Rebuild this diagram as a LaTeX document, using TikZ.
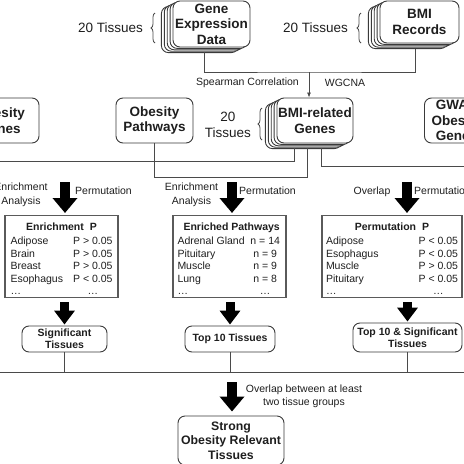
\documentclass[tikz,border=0pt]{standalone}
\usepackage{fontspec}
\setmainfont{Liberation Sans}
\usetikzlibrary{positioning}
\usetikzlibrary{arrows.meta}
\usetikzlibrary{shadows}
\usetikzlibrary{decorations.pathreplacing}
\usetikzlibrary{calc}

\definecolor{linegray}{HTML}{4A4A4A}
\definecolor{boxgray}{HTML}{3A3A3A}
\definecolor{tabgray}{HTML}{5A5A5A}
\definecolor{txtgray}{HTML}{1E1E1E}

\tikzset{
  link/.style={draw=linegray, line width=0.8pt},
  databox/.style={draw=boxgray, fill=white, line width=0.9pt, rounded corners=7pt, align=center, inner sep=1pt, font=\bfseries\fontsize{13.5}{15.5}\selectfont},
  stacked/.style={databox,
    copy shadow={shadow xshift=-11.6pt, shadow yshift=-5.6pt},
    copy shadow={shadow xshift=-8.7pt, shadow yshift=-4.2pt},
    copy shadow={shadow xshift=-5.8pt, shadow yshift=-2.8pt},
    copy shadow={shadow xshift=-2.9pt, shadow yshift=-1.4pt}},
  resultbox/.style={draw=boxgray, line width=0.9pt, rounded corners=7pt, align=center, inner sep=1pt, font=\bfseries\fontsize{10.5}{12}\selectfont},
  tablebox/.style={draw=tabgray, line width=1.3pt, inner sep=0pt, anchor=north, text height=15pt, text depth=67pt, font=\fontsize{10.5}{12.5}\selectfont},
  note/.style={align=center, inner sep=0pt, font=\fontsize{10.5}{13.5}\selectfont},
  bignote/.style={align=center, inner sep=0pt, font=\fontsize{13.5}{16}\selectfont},
  curly/.style={draw=linegray, decorate, decoration={brace, amplitude=4pt}, line width=0.8pt},
  bigarrow/.style={draw=black, line width=10pt, -{Triangle[width=24pt, length=15pt]}},
  smallarrow/.style={draw=black, line width=9pt, -{Triangle[width=20pt, length=14pt]}},
}

\begin{document}
\begin{tikzpicture}[x=1pt, y=-1pt, text=txtgray]
	\path[use as bounding box] (0,0) rectangle (464,464);
	\clip (0,0) rectangle (464,464);

	% data sources
	\node (gene) [stacked, minimum width=77pt, minimum height=46pt] at (211.5,24) {Gene\\Expression\\Data};
	\node (bmirec) [stacked, minimum width=79pt, minimum height=42pt] at (419.5,22) {BMI\\Records};
	\draw [curly] (155,43) -- (155,13);
	\node (tisgene) [bignote, anchor=east] at (143,28) {20 Tissues};
	\draw [curly] (361,43) -- (361,13);
	\node (tisbmi) [bignote, anchor=east] at (348,28) {20 Tissues};

	% gene sets
	\node (obgenes) [databox, minimum width=78pt, minimum height=45pt] at (0,120.5) {Obesity\\Genes};
	\node (pathways) [databox, minimum width=77pt, minimum height=45pt] at (154.5,120.5) {Obesity\\Pathways};
	\node (bmigenes) [stacked, minimum width=76pt, minimum height=45pt] at (315,120.5) {BMI-related\\Genes};
	\node (gwas) [databox, minimum width=64pt, minimum height=45pt, anchor=west] at (424,120.5) {GWAS\\Obesity\\Genes};
	\draw [curly] (262,140) -- (262,108);
	\node (tisrel) [bignote, anchor=east] at (251,125) {20\\Tissues};

	\coordinate (corr) at (309,72);
	\draw [link] ([shift={(-7,5)}]gene.south) |- (corr) -| ([shift={(-4.5,6)}]bmirec.south);
	\draw [link, -{Latex[length=5pt, width=4pt]}] (corr) -- (corr |- bmigenes.north);
	\node (spearman) [note] at (247.5,83) {Spearman Correlation};
	\node (wgcna) [note] at (345,83) {WGCNA};

	\coordinate (toleft) at (-20,161);
	\coordinate (toright) at (484,166);
	\draw [link] ([shift={(-21,5)}]bmigenes.south) |- (toleft);
	\draw [link] ([shift={(6,5)}]bmigenes.south) |- (toright);
	\draw [link] (pathways.south) -- ++(0,34) -| ([shift={(-8,5)}]bmigenes.south);

	% tests
	\coordinate (enrstart) at (65,182);
	\coordinate (pathstart) at (232,182);
	\coordinate (permstart) at (407,182);
	\node (enrlab) [note, font=\fontsize{10.5}{14}\selectfont] at (21,195) {Enrichment\\Analysis};
	\node (permlabL) [note] at (103.5,191) {Permutation};
	\node (pathlab) [note, font=\fontsize{10.5}{14}\selectfont] at (191.5,195) {Enrichment\\Analysis};
	\node (permlabM) [note] at (267.5,191) {Permutation};
	\node (ovllab) [note] at (372,192) {Overlap};
	\node (permlabR) [note] at (442.5,191) {Permutation};

	\node (enrtab) [tablebox, minimum width=113pt] at (61.5,215) {%
		\begin{tabular*}{102pt}[t]{@{}l@{\extracolsep{\fill}}c@{}}
			\multicolumn{2}{c}{\bfseries Enrichment\hspace{6pt}P}\\[1.5pt]
			Adipose & P > 0.05\\
			Brain & P > 0.05\\
			Breast & P > 0.05\\
			Esophagus & P < 0.05\\
			\ldots & \ldots
		\end{tabular*}};
	\node (pathtab) [tablebox, minimum width=113pt] at (229.5,215) {%
		\begin{tabular*}{104pt}[t]{@{}l@{\extracolsep{\fill}}c@{}}
			\multicolumn{2}{c}{\bfseries Enriched Pathways}\\[1.5pt]
			Adrenal Gland & n = 14\\
			Pituitary & n = 9\\
			Muscle & n = 9\\
			Lung & n = 8\\
			\ldots & \ldots
		\end{tabular*}};
	\node (permtab) [tablebox, minimum width=140pt] at (392,215) {%
		\begin{tabular*}{132pt}[t]{@{}l@{\extracolsep{\fill}}c@{}}
			\multicolumn{2}{c}{\bfseries Permutation\hspace{6pt}P}\\[1.5pt]
			Adipose & P < 0.05\\
			Esophagus & P < 0.05\\
			Muscle & P > 0.05\\
			Pituitary & P < 0.05\\
			\ldots & \ldots
		\end{tabular*}};

	% tissue groups
	\node (sigtis) [resultbox, minimum width=85pt, minimum height=26pt] at (64.5,339) {Significant\\Tissues};
	\node (top10) [resultbox, minimum width=90pt, minimum height=26pt] at (230,339) {Top 10 Tissues};
	\node (topsig) [resultbox, minimum width=109pt, minimum height=29pt] at (407.5,337.5) {Top 10 \& Significant\\Tissues};

	\draw [bigarrow, shorten >=2pt] (enrstart) -- (enrstart |- enrtab.north);
	\draw [bigarrow, shorten >=2pt] (pathstart) -- (pathstart |- pathtab.north);
	\draw [bigarrow, shorten >=2pt] (permstart) -- (permstart |- permtab.north);
	\draw [smallarrow, shorten <=4pt, shorten >=1pt] (enrtab.south -| sigtis.north) -- (sigtis.north);
	\draw [smallarrow, shorten <=4pt, shorten >=1pt] (pathtab.south -| top10.north) -- (top10.north);
	\draw [smallarrow, shorten <=4pt, shorten >=1pt] (permtab.south -| topsig.north) -- (topsig.north);

	% overlap
	\coordinate (mergeL) at (-20,372);
	\coordinate (mergeR) at (484,372);
	\draw [link] (mergeL) -- (mergeR);
	\draw [link] (sigtis.south) -- (sigtis.south |- mergeL);
	\draw [link] (top10.south) -- (top10.south |- mergeL);
	\draw [link] (topsig.south) -- (topsig.south |- mergeL);

	\node (strong) [resultbox, font=\bfseries\fontsize{12.3}{14.5}\selectfont, minimum width=106pt, minimum height=49pt] at (231,440.5) {Strong\\Obesity Relevant\\Tissues};
	\coordinate (overstart) at (232,382);
	\draw [bigarrow, shorten >=4pt] (overstart) -- (overstart |- strong.north);
	\node (overlap) [note, font=\fontsize{10.5}{13}\selectfont] at (304,396.5) {Overlap between at least\\two tissue groups};
\end{tikzpicture}
\end{document}
